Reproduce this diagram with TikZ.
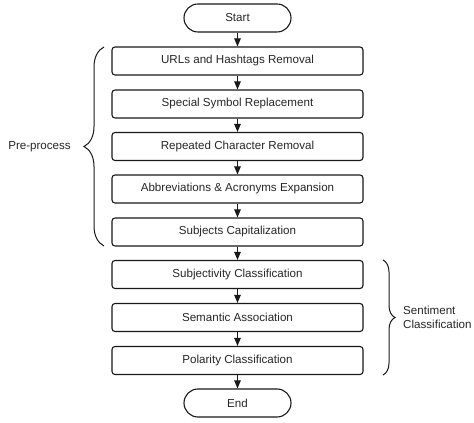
\documentclass[tikz,border=0pt]{standalone}
\usepackage{fontspec}
\setmainfont{Liberation Sans}
\usetikzlibrary{arrows.meta,decorations.pathreplacing}
\begin{document}
\begin{tikzpicture}[x=1pt,y=1pt,
  font=\fontsize{11.6}{14.5}\selectfont, text=black!85,
  stepbox/.style={draw=black!90, line width=1.1pt, rounded corners=3pt,
    minimum width=251pt, minimum height=28pt, inner sep=0pt},
  term/.style={draw=black!90, line width=1.1pt, rounded corners=14pt,
    minimum width=107pt, minimum height=28pt, inner sep=0pt},
  conn/.style={draw=black!90, line width=1.1pt, -{Triangle[length=8pt,width=6.5pt]}},
  brc/.style={draw=black!90, line width=1pt, decorate}
]
\useasboundingbox (0,0) rectangle (474,423);
\node[term] (start) at (237.5,405) {Start};
\node[stepbox] (b1) at (237.5,362) {URLs and Hashtags Removal};
\node[stepbox] (b2) at (237.5,319) {Special Symbol Replacement};
\node[stepbox] (b3) at (237.5,276.5) {Repeated Character Removal};
\node[stepbox] (b4) at (237.5,234) {Abbreviations \& Acronyms Expansion};
\node[stepbox] (b5) at (237.5,191) {Subjects Capitalization};
\node[stepbox] (b6) at (237.5,148.5) {Subjectivity Classification};
\node[stepbox] (b7) at (237.5,105.5) {Semantic Association};
\node[stepbox] (b8) at (237.5,62.5) {Polarity Classification};
\node[term] (end) at (237.5,20) {End};
\draw[conn] (start) -- (b1);
\draw[conn] (b1) -- (b2);
\draw[conn] (b2) -- (b3);
\draw[conn] (b3) -- (b4);
\draw[conn] (b4) -- (b5);
\draw[conn] (b5) -- (b6);
\draw[conn] (b6) -- (b7);
\draw[conn] (b7) -- (b8);
\draw[conn] (b8) -- (end);
% left brace
\coordinate (lb1) at (104,177);
\coordinate (lb2) at (104,376);
\draw[brc, decoration={brace, amplitude=20pt, aspect=0.5}] (lb1) -- (lb2);
\node[anchor=east, inner sep=0pt] (pre) at (71,276) {Pre-process};
% right brace
\coordinate (rb1) at (383,163);
\coordinate (rb2) at (383,48);
\draw[brc, decoration={brace, amplitude=12pt, aspect=0.5}] (rb1) -- (rb2);
\node[anchor=west, align=left, inner sep=0pt] (sent) at (403,105.5) {Sentiment\\Classification};
\end{tikzpicture}
\end{document}
